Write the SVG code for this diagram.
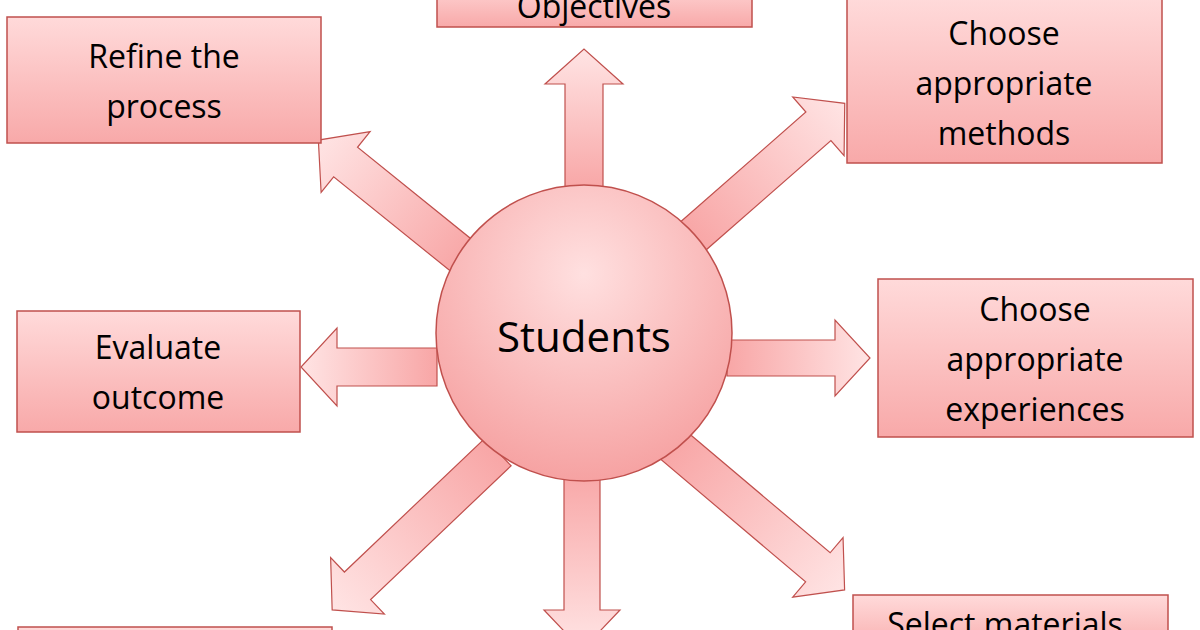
<svg xmlns="http://www.w3.org/2000/svg" width="1200" height="630" viewBox="0 0 1200 630">
<defs>
<linearGradient id="bx" x1="0" y1="0" x2="0" y2="1"><stop offset="0" stop-color="#ffdada"/><stop offset="1" stop-color="#f8a9a9"/></linearGradient>
<linearGradient id="ar" x1="0" y1="0" x2="1" y2="0"><stop offset="0" stop-color="#f8a6a6"/><stop offset="1" stop-color="#ffe4e4"/></linearGradient>
<radialGradient id="ci" cx="0.5" cy="0.3" r="0.7"><stop offset="0" stop-color="#ffe0e0"/><stop offset="1" stop-color="#f6a2a2"/></radialGradient>
<style>
.b{fill:url(#bx);stroke:#c0504d;stroke-width:1.5}
.a{fill:url(#ar);stroke:#c0504d;stroke-width:1.2}
text{font-family:"Open Sans","Liberation Sans",sans-serif;font-size:32px;fill:#000;text-anchor:middle}
text.big{font-size:42px}
</style>
</defs>
<rect width="1200" height="630" fill="#fff"/>
<g id="connectors">
<path class="a" transform="translate(584,190) rotate(-90)" d="M0,-19 H106 V-39 L141,0 L106,39 V19 H0 Z"/>
<path class="a" transform="translate(727,358)" d="M0,-18 H108 V-38 L143,0 L108,38 V18 H0 Z"/>
<path class="a" transform="translate(437,367) rotate(180)" d="M0,-19 H100 V-39 L136,0 L100,39 V19 H0 Z"/>
<path class="a" transform="translate(582,468) rotate(90)" d="M0,-18 H142 V-38 L182,0 L142,38 V18 H0 Z"/>
<path class="a" transform="translate(467,260) rotate(218.9)" d="M0,-19 H156 V-39 L191,0 L156,39 V19 H0 Z"/>
<path class="a" transform="translate(692,237) rotate(-41.2)" d="M0,-19 H168 V-39 L203,0 L168,39 V19 H0 Z"/>
<path class="a" transform="translate(498,452) rotate(136.4)" d="M0,-19 H194 V-39 L229,0 L194,39 V19 H0 Z"/>
<path class="a" transform="translate(672,444) rotate(40.2)" d="M0,-19 H191 V-39 L226,0 L191,39 V19 H0 Z"/>
</g>
<g id="students"><circle cx="584" cy="333" r="148" fill="url(#ci)" stroke="#c0504d" stroke-width="1.5"/><text class="big" x="584" y="352">Students</text></g>
<g id="objectives"><rect class="b" x="437" y="-20" width="315" height="47"/><text x="594" y="18">Objectives</text></g>
<g id="refine"><rect class="b" x="7" y="17" width="314" height="126"/><text x="164" y="68">Refine the</text><text x="164" y="118">process</text></g>
<g id="methods"><rect class="b" x="847" y="-2" width="315" height="165"/><text x="1004" y="45">Choose</text><text x="1004" y="95">appropriate</text><text x="1004" y="145">methods</text></g>
<g id="evaluate"><rect class="b" x="17" y="311" width="283" height="121"/><text x="158" y="359">Evaluate</text><text x="158" y="409">outcome</text></g>
<g id="experiences"><rect class="b" x="878" y="279" width="315" height="158"/><text x="1035" y="321">Choose</text><text x="1035" y="371">appropriate</text><text x="1035" y="421">experiences</text></g>
<g id="materials"><rect class="b" x="853" y="595" width="315" height="60"/><text x="1005" y="636">Select materials</text></g>
<g id="bottomleft"><rect class="b" x="18" y="627" width="314" height="40"/></g>
</svg>
